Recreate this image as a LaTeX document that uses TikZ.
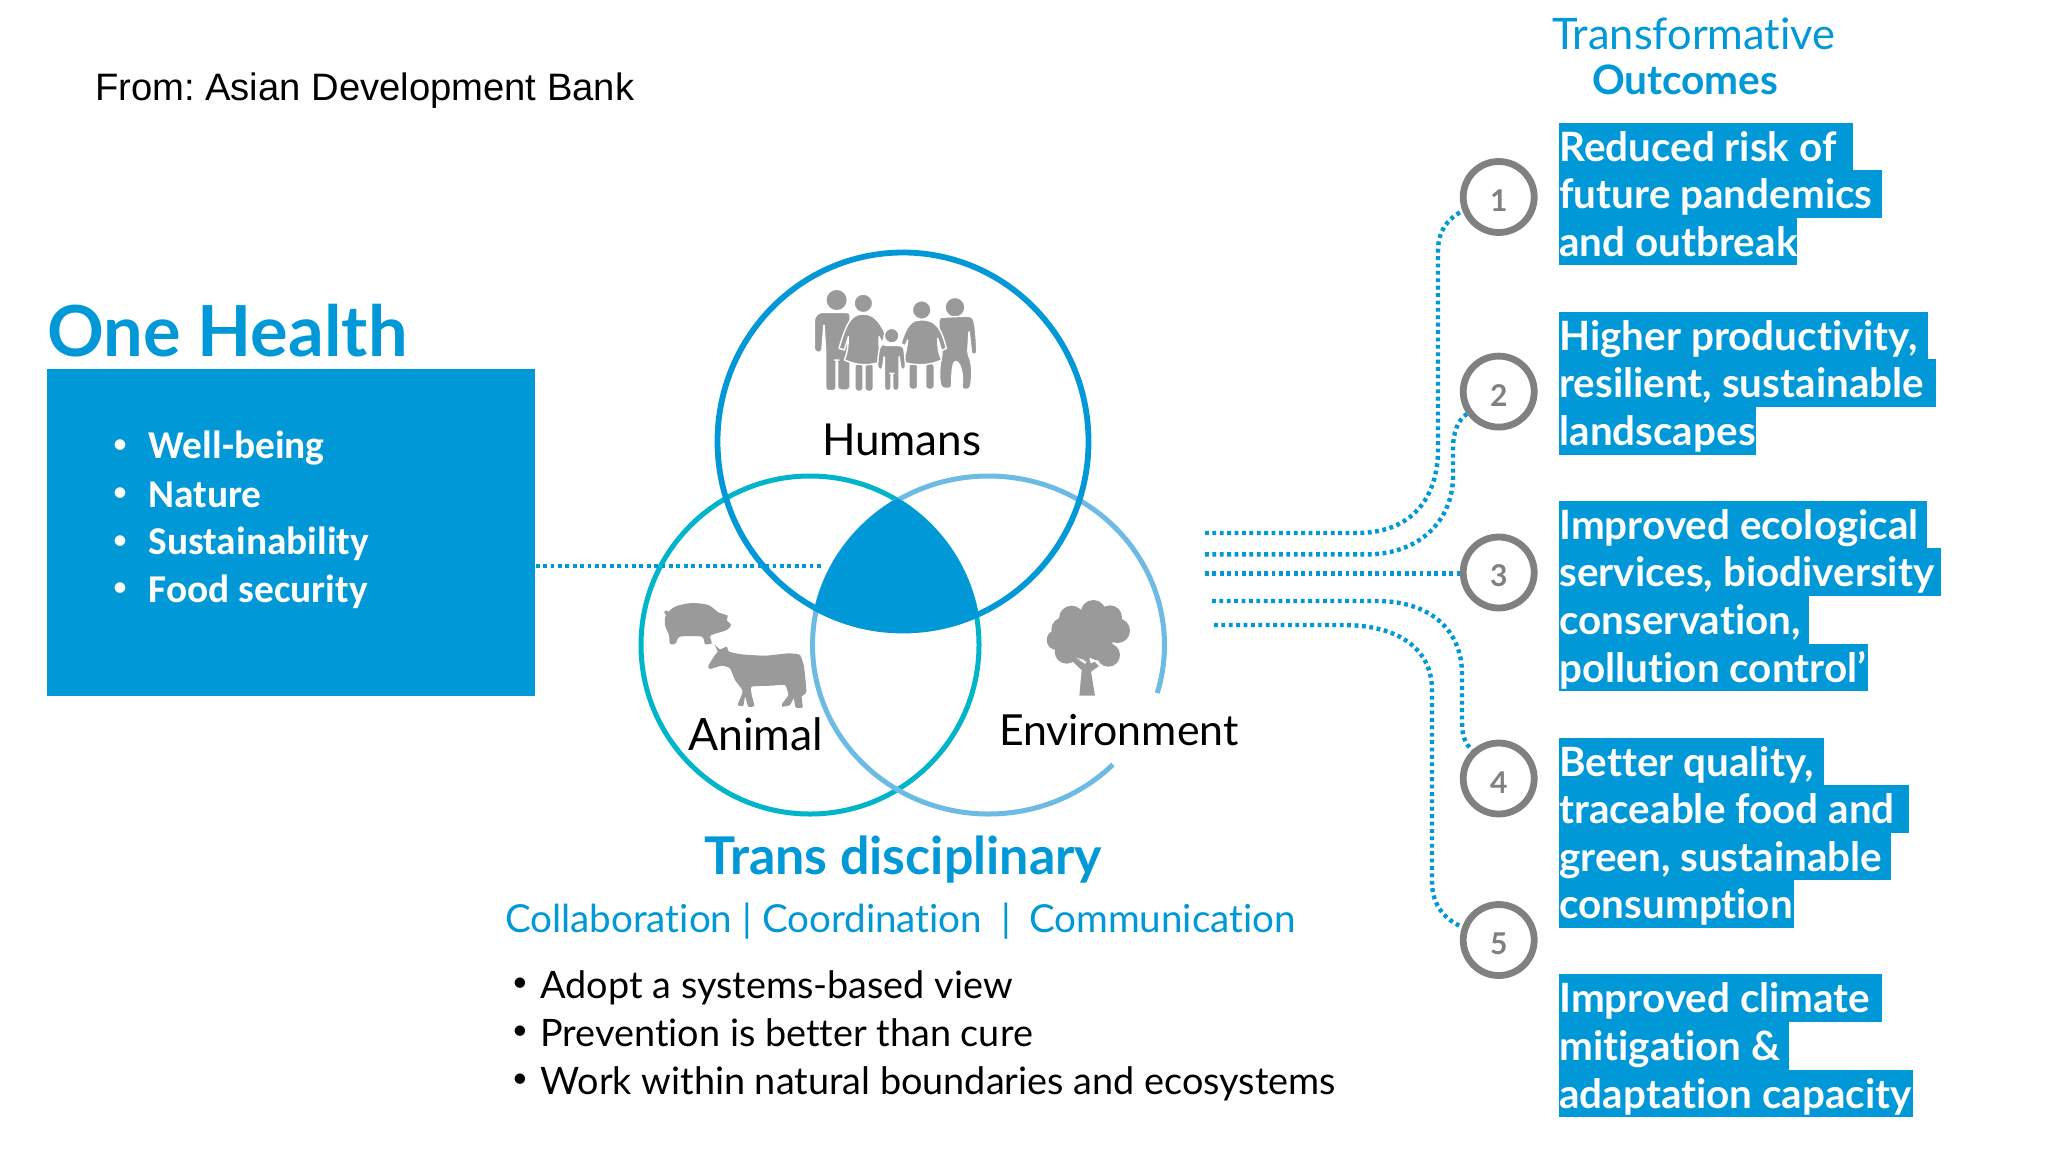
\documentclass[tikz,border=0pt]{standalone}
\usepackage{fontspec}
\setmainfont{Lato}[Ligatures={NoCommon}]
\newfontfamily\arialf{Liberation Sans}
\newfontfamily\carlf{Carlito}
\definecolor{ohblue}{HTML}{0098D7}
\definecolor{ohteal}{HTML}{00B5C9}
\definecolor{ohlight}{HTML}{6DBBE4}
\definecolor{ohgray}{HTML}{9A9A9A}
\definecolor{ringgray}{HTML}{808080}
\newcommand\fs[1]{\fontsize{#1}{#1}\selectfont}
\newcommand\hlline[5]{% name, top, bottom, right, text
  \fill[ohblue] (1559.4,#2) rectangle (#4,#3);
  \node[lbl,text=white,font=\fs{20.2}\bfseries] (#1) at (1559.4,#2+38.5) {#5};}
\newcommand\ringdigit[1]{\rule{0pt}{14.6pt}#1}
\tikzset{
  lbl/.style={anchor=base west,inner sep=0pt,outer sep=0pt},
  dotline/.style={draw=ohblue,line width=2.2pt,dash pattern=on 1.9pt off 1.8pt},
  ring/.style={circle,draw=ringgray,line width=3.4pt,fill=white,minimum size=35.5pt,inner sep=0pt,text=ringgray,font=\fs{15}\bfseries},
  fig/.style={fill=ohgray,draw=white,line width=.7pt,line join=round},
  dotmark/.style={anchor=center,inner sep=0pt,outer sep=0pt,font=\fs{14}}
}
\begin{document}
\begin{tikzpicture}[x=.5pt,y=-.5pt]
\useasboundingbox (0,0) rectangle (2048,1152);
\fill[white] (0,0) rectangle (2048,1152);

% header text
\node[lbl,font=\arialf\fs{19.1}\frenchspacing] (src) at (95,100) {From: Asian Development Bank};

% One Health
\node[lbl,text=ohblue,font=\fs{35.2}\bfseries] (oh) at (47,356.5) {One Health};
\node[fill=ohblue,anchor=north west,minimum width=244pt,minimum height=163.5pt,inner sep=0pt] (box) at (47,369) {};
\foreach \nm/\yy/\tt in {a/458/Well-being,b/506.5/Nature,c/554/Sustainability,d/601.6/Food security}{
  \node[dotmark,text=white,font=\carlf\fs{15}] (b\nm) at (120,\yy-11.5) {•};
  \node[lbl,text=white,font=\carlf\fs{19.7}\bfseries] (t\nm) at (148.5,\yy+.8) {\tt};
}

% Venn
\draw[ohteal,line width=2.5pt] (810,645) circle[radius=169];
\draw[ohlight,line width=2.5pt] (988.5,645) ++(45:176 and 169) arc[start angle=45,end angle=376.5,x radius=176,y radius=169];
\draw[ohblue,line width=2.9pt] (903,441.5) ellipse[x radius=185.5,y radius=189];
\begin{scope}
  \clip (903,441.5) ellipse[x radius=187.5,y radius=191];
  \clip (810,645) circle[radius=171];
  \fill[ohblue] (988.5,645) ellipse[x radius=178,y radius=171];
\end{scope}

% connector from One Health
\coordinate (hubL) at (822,566);
\draw[dotline] (box.east |- hubL) -- (hubL);

% family icon
\begin{scope}[shift={(805,280)},x=.16667pt,y=-.16667pt]
  \fill[ohgray] (95,60) circle[radius=30];
  \path[fig,rounded corners=1.5pt] (28,215) -- (28,130) .. controls (28,108) and (42,97) .. (60,97) -- (135,97) -- (135,330) -- (98,330) -- (98,240) -- (93,240) -- (93,332) -- (62,332) -- (62,215) -- (57,130) -- (50,218) -- cycle;
  \path[fig] (450,82) circle[radius=30];
  \path[fig,rounded corners=1.5pt] (402,112) -- (495,108) .. controls (510,120) and (513,160) .. (516,222) -- (500,225) -- (492,150) -- (488,220) .. controls (505,260) and (500,300) .. (495,328) -- (470,328) .. controls (475,290) and (470,260) .. (452,240) .. controls (440,260) and (440,300) .. (440,325) -- (410,325) .. controls (400,290) and (405,250) .. (412,220) -- (402,150) -- cycle;
  \path[fig] (175,70) circle[radius=28];
  \path[fig,rounded corners=1.5pt] (150,250) -- (174,250) -- (174,334) -- (150,334) -- cycle;
  \path[fig,rounded corners=1.5pt] (180,250) -- (205,250) -- (205,334) -- (180,334) -- cycle;
  \path[fig] (175,102) .. controls (140,102) and (125,125) .. (102,205) -- (118,210) -- (130,170) .. controls (130,200) and (125,225) .. (118,240) .. controls (160,258) and (190,258) .. (230,245) .. controls (222,220) and (222,190) .. (222,170) -- (232,190) -- (240,160) .. controls (225,125) and (205,102) .. (175,102) -- cycle;
  \path[fig] (350,90) circle[radius=28];
  \path[fig,rounded corners=1.5pt] (312,250) -- (338,250) -- (338,328) -- (312,328) -- cycle;
  \path[fig,rounded corners=1.5pt] (362,250) -- (388,250) -- (388,328) -- (362,328) -- cycle;
  \path[fig] (350,120) .. controls (320,118) and (305,135) .. (288,190) -- (300,198) -- (308,180) .. controls (305,210) and (300,230) .. (290,245) .. controls (330,258) and (370,258) .. (410,240) .. controls (400,220) and (398,200) .. (398,175) -- (410,212) -- (424,205) .. controls (410,150) and (395,118) .. (350,120) -- cycle;
  \path[fig] (260,167) circle[radius=22];
  \path[fig,rounded corners=1.5pt] (232,196) -- (288,196) .. controls (298,205) and (300,240) .. (302,268) -- (288,270) -- (282,225) -- (282,332) -- (263,332) -- (263,280) -- (258,280) -- (258,332) -- (238,332) -- (238,225) -- (232,270) -- (218,268) .. controls (218,235) and (222,205) .. (232,196) -- cycle;
\end{scope}

% pig and cow icons
\begin{scope}[shift={(655,595)},x=.16667pt,y=-.16667pt]
  \fill[ohgray] plot[smooth cycle,tension=.45] coordinates {(33,60) (60,35) (110,24) (160,30) (190,52) (218,62) (215,75) (228,90) (215,105) (175,118) (165,125) (170,145) (150,147) (140,125) (75,125) (62,145) (45,147) (42,120) (30,90)};
  \fill[ohgray] (36,62) -- (27,52) -- (33,46) -- (44,52) -- cycle;
  \fill[ohgray] plot[smooth cycle,tension=.3] coordinates {(180,150) (195,163) (215,155) (222,170) (260,178) (330,182) (400,175) (435,180) (447,215) (454,290) (440,305) (443,337) (422,337) (416,310) (405,330) (382,335) (382,325) (400,300) (390,270) (350,272) (290,275) (290,300) (298,332) (280,335) (270,305) (265,332) (248,330) (260,300) (262,285) (240,255) (225,220) (200,212) (165,222) (160,212) (180,180) (188,170)};
\end{scope}

% tree icon
\begin{scope}[shift={(1030,590)},x=.16667pt,y=-.16667pt]
  \fill[ohgray] (190,68) circle[radius=38] (125,85) circle[radius=38] (240,82) circle[radius=36] (100,118) circle[radius=36] (263,122) circle[radius=37] (80,150) circle[radius=30] (110,185) circle[radius=36] (235,195) circle[radius=35] (175,140) circle[radius=75];
  \fill[ohgray] (148,317) -- (195,317) -- (183,245) -- (207,228) -- (178,200) -- (166,222) -- (132,202) -- (128,215) -- (155,240) -- cycle;
  \fill[white] (138,202) -- (163,210) -- (163,216) -- cycle (178,203) -- (200,212) -- (182,220) -- cycle;
\end{scope}

% Venn labels
\node[lbl,font=\fs{22}] (hum) at (822,455) {Humans};
\node[lbl,font=\fs{22.3}] (ani) at (688,750.5) {Animal};
\node[lbl,font=\fs{21.4}] (env) at (999,745) {Environment};

% Trans disciplinary
\node[lbl,text=ohblue,font=\fs{26}\bfseries] (td) at (704,874) {Trans disciplinary};
\node[lbl,text=ohblue,font=\fs{19.3}] (c1t) at (505,932.5) {Collaboration};
\node[lbl,text=ohblue,font=\fs{19.3}] (s1t) at (742,932.5) {|};
\node[lbl,text=ohblue,font=\fs{19.3}] (c2t) at (762,932.5) {Coordination};
\node[lbl,text=ohblue,font=\fs{19.3}] (s2t) at (1001,932.5) {|};
\node[lbl,text=ohblue,font=\fs{19.3}] (c3t) at (1029,932.5) {Communication};
\foreach \nm/\yy/\tt in {a/997.7/Adopt a systems-based view,b/1045.7/Prevention is better than cure,c/1093.3/Work within natural boundaries and ecosystems}{
  \node[dotmark] (p\nm) at (520,\yy-12.5) {•};
  \node[lbl,font=\fs{18.9}] (q\nm) at (540.6,\yy+1) {\tt};
}

% Outcomes heading
\node[lbl,text=ohblue,font=\fs{21.7}] (tr) at (1552,49) {Transformative};
\node[lbl,text=ohblue,font=\fs{20.3}\bfseries] (ou) at (1592,94) {Outcomes};

% Outcome text
\hlline{o1a}{122.6}{170}{1853}{Reduced risk of}
\hlline{o1b}{170}{217.6}{1882}{future pandemics}
\hlline{o1c}{217.6}{265}{1797}{and outbreak}
\hlline{o2a}{311.5}{359.4}{1928}{Higher productivity,}
\hlline{o2b}{359.4}{407}{1936}{resilient, sustainable}
\hlline{o2c}{407}{454.8}{1756}{landscapes}
\hlline{o3a}{500.7}{548.3}{1927}{Improved ecological}
\hlline{o3b}{548.3}{596.3}{1941}{services, biodiversity}
\hlline{o3c}{596.3}{643.7}{1809}{conservation,}
\hlline{o3d}{643.7}{691}{1868}{pollution control’}
\hlline{o4a}{737.7}{785}{1824}{Better quality,}
\hlline{o4b}{785}{832.7}{1909}{traceable food and}
\hlline{o4c}{832.7}{880}{1891}{green, sustainable}
\hlline{o4d}{880}{928}{1794}{consumption}
\hlline{o5a}{974.3}{1022.3}{1882}{Improved climate}
\hlline{o5b}{1022.3}{1069.7}{1789}{mitigation \&}
\hlline{o5c}{1069.7}{1117}{1912.7}{adaptation capacity}

% numbered rings
\node[ring] (c1) at (1498.7,197) {\ringdigit{1}};
\node[ring] (c2) at (1498.7,391.6) {\ringdigit{2}};
\node[ring] (c3) at (1498.7,572.5) {\ringdigit{3}};
\node[ring] (c4) at (1498.7,778.5) {\ringdigit{4}};
\node[ring] (c5) at (1498.7,940) {\ringdigit{5}};

% connectors to rings
\coordinate (s1) at (1205,533);
\coordinate (s2) at (1205,554.4);
\coordinate (s3) at (1205,573.5);
\coordinate (s4) at (1212,601);
\coordinate (s5) at (1214,625);
\draw[dotline] (s1) -- (1357,533) .. controls (1410,533) and (1438,500) .. (1438,449) -- (1438,251) .. controls (1438,232) and (1446,220) .. (c1.201);
\draw[dotline] (s2) -- (1367,554.4) .. controls (1420,554.4) and (1453,520) .. (1453,476) -- (1453,449) .. controls (1453,432) and (1458,420) .. (c2.215);
\draw[dotline] (s3) -- (s3 -| c3.west);
\draw[dotline] (s4) -- (1377,601) .. controls (1430,601) and (1462,630) .. (1462,674) -- (1462,723) .. controls (1462,735) and (1465,744) .. (c4.133);
\draw[dotline] (s5) -- (1343,625) .. controls (1400,625) and (1432,650) .. (1432,690) -- (1432,882) .. controls (1432,905) and (1445,920) .. (c5.160);
\end{tikzpicture}
\end{document}
